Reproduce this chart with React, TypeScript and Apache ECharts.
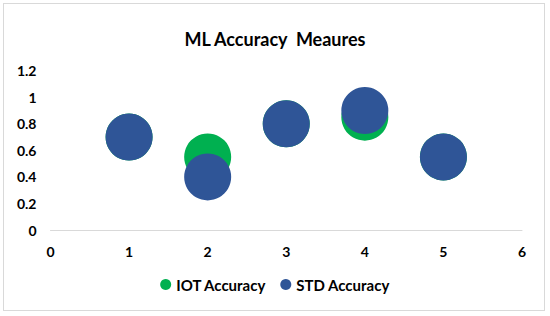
import React, { useEffect, useRef } from "react";
import * as echarts from "echarts";

const xValues = [1, 2, 3, 4, 5];
const iotAccuracy = [0.7, 0.55, 0.8, 0.85, 0.55];
const stdAccuracy = [0.7, 0.4, 0.8, 0.9, 0.55];
const seriesNames = ["IOT Accuracy", "STD Accuracy"];
const seriesColors = ["#00B050", "#2F5597"];

const FONT = "Lato, 'Open Sans', sans-serif";

export default function App() {
  const ref = useRef<HTMLDivElement>(null);
  useEffect(() => {
    if (!ref.current) return;
    const chart = echarts.init(ref.current, undefined, { renderer: "svg" });
    const mk = (vals: number[]) => xValues.map((x, i) => [x, vals[i]]);
    chart.setOption({
      animation: false,
      backgroundColor: "transparent",
      title: {
        text: "ML Accuracy  Meaures",
        left: "center",
        top: 25,
        textStyle: { fontFamily: FONT, fontWeight: "bold", fontSize: 18, color: "#000" },
      },
      legend: {
        bottom: 19,
        left: "center",
        itemWidth: 11,
        itemHeight: 11,
        itemGap: 14,
        icon: "circle",
        textStyle: { fontFamily: FONT, fontWeight: "bold", fontSize: 15, color: "#000" },
        data: seriesNames,
      },
      grid: { left: 50.5, right: 28, top: 70.7, bottom: 86, containLabel: false },
      xAxis: {
        type: "value",
        min: 0,
        max: 6,
        interval: 1,
        axisLine: { show: true, lineStyle: { color: "#D9D9D9", width: 1 } },
        axisTick: { show: false },
        splitLine: { show: false },
        axisLabel: { fontFamily: FONT, fontWeight: "bold", fontSize: 14, color: "#000", margin: 14 },
      },
      yAxis: {
        type: "value",
        min: 0,
        max: 1.2,
        interval: 0.2,
        axisLine: { show: false },
        axisTick: { show: false },
        splitLine: { show: false },
        axisLabel: { fontFamily: FONT, fontWeight: "bold", fontSize: 14, color: "#000", margin: 14 },
      },
      series: [
        {
          name: seriesNames[0],
          type: "scatter",
          symbol: "circle",
          symbolSize: 47,
          itemStyle: { color: seriesColors[0], opacity: 1 },
          data: mk(iotAccuracy),
        },
        {
          name: seriesNames[1],
          type: "scatter",
          symbol: "circle",
          symbolSize: 47,
          itemStyle: { color: seriesColors[1], opacity: 1 },
          data: mk(stdAccuracy),
        },
      ],
    });
    return () => chart.dispose();
  }, []);
  return (
    <div
      style={{
        position: "fixed",
        left: 0,
        top: 0,
        width: 550,
        height: 316,
        background: "#fff",
      }}
    >
      <div
        style={{
          position: "absolute",
          left: 3,
          top: 3,
          width: 542,
          height: 308,
          border: "1px solid #D9D9D9",
          boxSizing: "border-box",
        }}
      />
      <div ref={ref} style={{ position: "absolute", left: 0, top: 0, width: 550, height: 316 }} />
    </div>
  );
}
